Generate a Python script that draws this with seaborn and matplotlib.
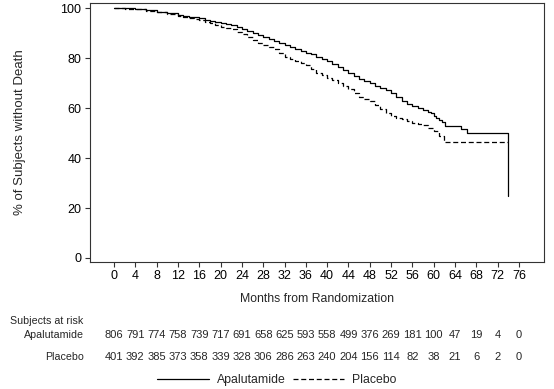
import numpy as np
import pandas as pd
import matplotlib.pyplot as plt
import matplotlib.transforms as mtransforms
import seaborn as sns

# KM curves (months, % without death)
apa_months = [0, 2, 4, 6, 8, 10, 12, 13, 14, 15, 16, 17, 18, 19, 20, 21, 22, 23, 24, 25, 26,
              27, 28, 29, 30, 31, 32, 33, 34, 35, 36, 37, 38, 39, 40, 41, 42, 43, 44, 45, 46,
              47, 48, 49, 50, 51, 52, 53, 54, 55, 56, 57, 58, 59, 59.5, 60, 60.5, 61, 61.5,
              62.2, 65.2, 66.3, 74]
apa_surv = [100, 99.9, 99.6, 99.2, 98.6, 97.9, 97.3, 97.0, 96.6, 96.3, 95.9, 95.4, 95.0, 94.5,
            94.0, 93.6, 93.1, 92.4, 91.6, 90.7, 89.9, 89.1, 88.4, 87.5, 86.8, 86.0, 85.3, 84.6,
            83.7, 83.0, 82.2, 81.5, 80.6, 79.8, 78.8, 77.6, 76.5, 75.4, 74.2, 73.0, 71.8, 70.9,
            70.0, 68.9, 67.9, 67.1, 66.2, 64.6, 63.0, 61.8, 60.8, 60.1, 59.3, 58.5, 57.9, 57.0,
            56.0, 55.2, 54.5, 53.0, 51.6, 50.1, 25]

pbo_months = [0, 2, 4, 6, 8, 10, 12, 13, 14, 15, 16, 17, 18, 19, 20, 21, 22, 23, 24, 25, 26,
              27, 28, 29, 30, 31, 32, 33, 34, 35, 36, 37, 38, 39, 40, 41, 42, 43, 44, 45, 46,
              47, 48, 49, 50, 51, 52, 53, 54, 55, 56, 57, 58, 59, 60, 61, 62, 74]
pbo_surv = [100, 99.8, 99.5, 99.0, 98.4, 97.6, 96.9, 96.5, 96.1, 95.7, 95.2, 94.6, 93.9, 93.2,
            92.6, 92.1, 91.6, 90.6, 89.5, 88.4, 87.3, 86.2, 85.2, 84.3, 83.5, 82.0, 80.5, 79.6,
            78.8, 78.1, 77.4, 75.7, 74.0, 73.1, 72.2, 71.2, 70.2, 68.8, 67.5, 66.0, 64.6, 63.8,
            63.0, 61.2, 59.5, 58.1, 56.8, 56.1, 55.5, 54.8, 54.2, 53.8, 53.4, 52.2, 51.0, 49.0,
            46.5, 46.5]

arms = ['Apalutamide', 'Placebo']
risk_months = list(range(0, 80, 4))
risk_apa = [806, 791, 774, 758, 739, 717, 691, 658, 625, 593, 558, 499, 376, 269, 181, 100, 47, 19, 4, 0]
risk_pbo = [401, 392, 385, 373, 358, 339, 328, 306, 286, 263, 240, 204, 156, 114, 82, 38, 21, 6, 2, 0]

df = pd.concat([
    pd.DataFrame({'month': apa_months, 'surv': apa_surv, 'arm': arms[0]}),
    pd.DataFrame({'month': pbo_months, 'surv': pbo_surv, 'arm': arms[1]}),
])

sns.set_style('ticks')
plt.rcParams['font.family'] = ['Liberation Sans', 'DejaVu Sans']

fig = plt.figure(figsize=(5.54, 3.89), dpi=100)
ax = fig.add_axes([0.1625, 0.3265, 0.8195, 0.6655])

sns.lineplot(data=df, x='month', y='surv', style='arm', color='black',
             dashes={'Apalutamide': '', 'Placebo': (4, 2.2)}, estimator=None, sort=False,
             drawstyle='steps-post', linewidth=0.9, legend=False, ax=ax)

ax.set_xlim(-4.5, 80.7)
ax.set_ylim(-1.6, 102)
ax.set_xticks(risk_months)
ax.set_yticks([0, 20, 40, 60, 80, 100])
ax.tick_params(direction='out', length=3.6, width=0.8, pad=2.5, colors='#333333',
               labelcolor='black', labelsize=9)
for s in ax.spines.values():
    s.set_visible(True)
    s.set_color('#333333')
    s.set_linewidth(0.8)
ax.set_xlabel('Months from Randomization', fontsize=8.8)
ax.set_ylabel('% of Subjects without Death', fontsize=9.5)
ax.xaxis.set_label_coords(0.5, -0.118)
ax.yaxis.set_label_coords(-0.141, 0.5)

# at-risk table
trans = mtransforms.blended_transform_factory(ax.transData, fig.transFigure)
fs_lab = 7.7
fs_num = 8.0
fig.text(10 / 554, 1 - 321 / 389, 'Subjects at risk', ha='left', va='center', fontsize=fs_lab)
fig.text(84 / 554, 1 - 335 / 389, 'Apalutamide', ha='right', va='center', fontsize=fs_lab)
fig.text(84 / 554, 1 - 357 / 389, 'Placebo', ha='right', va='center', fontsize=fs_lab)
for m, a, p in zip(risk_months, risk_apa, risk_pbo):
    ax.text(m, 1 - 335 / 389, str(a), transform=trans, ha='center', va='center', fontsize=fs_num)
    ax.text(m, 1 - 357 / 389, str(p), transform=trans, ha='center', va='center', fontsize=fs_num)

lines = ax.get_lines()[:2]
fig.legend(lines, arms, loc='center', bbox_to_anchor=(277 / 554, 1 - 380 / 389), ncol=2,
           frameon=False, handlelength=4.2, columnspacing=0.6, handletextpad=0.65, fontsize=8.8)

fig.savefig('out.png', dpi=100)
